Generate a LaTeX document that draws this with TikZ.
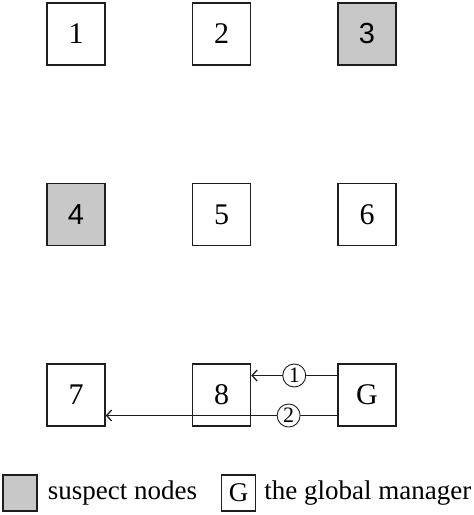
\documentclass[tikz,border=0pt]{standalone}
\usepackage{fontspec}
\setmainfont{Liberation Serif}
\newfontfamily\arialfont{Liberation Sans}
\usetikzlibrary{arrows.meta,positioning}
\definecolor{sgedge}{RGB}{30,30,30}
\definecolor{sgsus}{RGB}{200,200,200}
\tikzset{
  nd/.style={
    draw=sgedge, line width=1.5pt, fill=white,
    minimum width=58pt, minimum height=62pt, inner sep=0pt,
    font=\fontsize{30}{32}\selectfont
  },
  sus/.style={nd, fill=sgsus, font=\fontsize{29}{32}\selectfont\arialfont},
  arr/.style={-{Straight Barb[length=5pt,width=11pt]}, draw=sgedge, line width=1.3pt},
  num/.style={circle, draw=sgedge, line width=0.9pt, fill=white,
    inner sep=0pt, minimum size=23pt, font=\fontsize{22}{24}\selectfont},
  key/.style={draw=sgedge, line width=1.3pt, minimum width=34pt,
    minimum height=36pt, inner sep=0pt, font=\fontsize{27}{29}\selectfont},
  lbl/.style={anchor=west, inner sep=0pt, font=\fontsize{27}{29}\selectfont}
}
\begin{document}
\begin{tikzpicture}[x=1pt, y=-1pt, node distance=117pt and 86pt]
  \useasboundingbox (0,0) rectangle (474,515);
  \node[nd] (n1) at (76,34) {1};
  \node[nd, right=of n1] (n2) {2};
  \node[sus, right=of n2] (n3) {3};
  \node[sus, below=of n1] (n4) {4};
  \node[nd, right=of n4] (n5) {5};
  \node[nd, right=of n5] (n6) {6};
  \node[nd, below=of n4] (n7) {7};
  \node[nd, right=of n7] (n8) {8};
  \node[nd, right=of n8] (g) {G};
  \draw[arr] ([yshift=19.5pt]g.west) -- ([yshift=19.5pt]g.west -| n8.east)
    node[num, pos=0.5] (m1) {1};
  \draw[arr] ([yshift=-20.5pt]g.west) -- ([yshift=-20.5pt]g.west -| n7.east)
    node[num, pos=0.21] (m2) {2};
  % legend
  \node[key, fill=sgsus] (k1) at (20,493) {};
  \node[lbl, right=10pt of k1] (t1) {suspect nodes};
  \node[key] (k2) at (238.5,493) {G};
  \node[lbl, right=8pt of k2] (t2) {the global manager};
\end{tikzpicture}
\end{document}
